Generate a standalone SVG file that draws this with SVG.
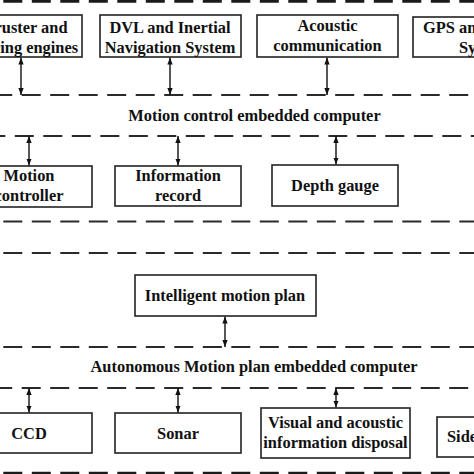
<svg xmlns="http://www.w3.org/2000/svg" width="474" height="474" viewBox="0 0 474 474">
<style>
.bg{fill:#fff}
.box{fill:#fff;stroke:#222;stroke-width:1.6}
.dl{stroke:#2a2a2a;stroke-width:1.8;stroke-dasharray:19 9.5;fill:none}
.dk{stroke:#1a1a1a;stroke-width:5.5;stroke-dasharray:19 9.5;fill:none}
.ar{stroke:#111;stroke-width:1.4;fill:none;marker-start:url(#ah);marker-end:url(#ah)}
text{font-family:"Liberation Serif","Times New Roman",serif;font-weight:bold;font-size:16.4px;fill:#111;text-anchor:middle}
.st{text-anchor:start}
</style>
<defs>
<marker id="ah" viewBox="0 0 10 10" refX="10" refY="5" markerWidth="7" markerHeight="7" orient="auto-start-reverse" markerUnits="userSpaceOnUse">
<path d="M0,1.2 L10,5 L0,8.8 z" fill="#111"/>
</marker>
</defs>
<rect class="bg" x="0" y="0" width="474" height="474"/>

<g id="buses">
<line class="dk" x1="0" y1="0" x2="474" y2="0" stroke-dashoffset="-3.3"/>
<line class="dl" x1="0" y1="95" x2="474" y2="95" stroke-dashoffset="6.8"/>
<line class="dl" x1="0" y1="136" x2="474" y2="136" stroke-dashoffset="13.7"/>
<line class="dl" x1="0" y1="221.5" x2="474" y2="221.5" stroke-dashoffset="-3.3"/>
<line class="dl" x1="0" y1="253" x2="474" y2="253" stroke-dashoffset="-3.3"/>
<line class="dl" x1="0" y1="347" x2="474" y2="347" stroke-dashoffset="-3.3"/>
<line class="dl" x1="0" y1="388" x2="474" y2="388" stroke-dashoffset="6.8"/>
<line class="dk" x1="0" y1="474.5" x2="474" y2="474.5" stroke-dashoffset="-3.3"/>
</g>

<g id="label-motion-control">
<text x="254.5" y="120.5">Motion control embedded computer</text>
</g>
<g id="label-autonomous">
<text x="254" y="372">Autonomous Motion plan embedded computer</text>
</g>

<g id="node-thruster">
<rect class="box" x="-40" y="15" width="122" height="42"/>
<text x="21" y="32.5">Thruster and</text>
<text x="21" y="52.5">Steering engines</text>
</g>
<g id="node-dvl">
<rect class="box" x="100" y="15" width="141" height="42"/>
<text x="170" y="32.5">DVL and Inertial</text>
<text x="170" y="52.5">Navigation System</text>
</g>
<g id="node-acoustic">
<rect class="box" x="257" y="15" width="141" height="42"/>
<text x="327.5" y="31">Acoustic</text>
<text x="327.5" y="51">communication</text>
</g>
<g id="node-gps">
<rect class="box" x="413" y="17" width="140" height="40"/>
<text class="st" x="423" y="32.5">GPS and</text>
<text class="st" x="459" y="52.5">System</text>
</g>

<g id="node-motion-controller">
<rect class="box" x="-34" y="166" width="126" height="41"/>
<text x="29" y="180.7">Motion</text>
<text x="29" y="200.7">controller</text>
</g>
<g id="node-information-record">
<rect class="box" x="115" y="166" width="126" height="40"/>
<text x="178" y="180.5">Information</text>
<text x="178" y="200.5">record</text>
</g>
<g id="node-depth-gauge">
<rect class="box" x="272" y="165" width="126" height="41"/>
<text x="335" y="190.5">Depth gauge</text>
</g>

<g id="node-intelligent-motion-plan">
<rect class="box" x="135" y="275" width="181" height="41"/>
<text x="225" y="300.5">Intelligent motion plan</text>
</g>

<g id="node-ccd">
<rect class="box" x="-34" y="413" width="126" height="40"/>
<text x="29" y="438.5">CCD</text>
</g>
<g id="node-sonar">
<rect class="box" x="115" y="413" width="126" height="40"/>
<text x="178" y="438.5">Sonar</text>
</g>
<g id="node-visual">
<rect class="box" x="261" y="408" width="149" height="50"/>
<text x="335.5" y="428">Visual and acoustic</text>
<text x="335.5" y="447.5">information disposal</text>
</g>
<g id="node-side">
<rect class="box" x="437" y="417" width="120" height="40"/>
<text class="st" x="447" y="442">Side scan sonar</text>
</g>

<g id="connectors">
<line class="ar" x1="21" y1="57.5" x2="21" y2="95"/>
<line class="ar" x1="170" y1="57.5" x2="170" y2="95"/>
<line class="ar" x1="327" y1="57.5" x2="327" y2="95"/>
<line class="ar" x1="29" y1="136" x2="29" y2="165.5"/>
<line class="ar" x1="178" y1="136" x2="178" y2="165.5"/>
<line class="ar" x1="336" y1="136" x2="336" y2="164.5"/>
<line class="ar" x1="225" y1="316.5" x2="225" y2="347"/>
<line class="ar" x1="29" y1="388" x2="29" y2="412.5"/>
<line class="ar" x1="178" y1="388" x2="178" y2="412.5"/>
<line class="ar" x1="336" y1="388" x2="336" y2="407.5"/>
</g>
</svg>
